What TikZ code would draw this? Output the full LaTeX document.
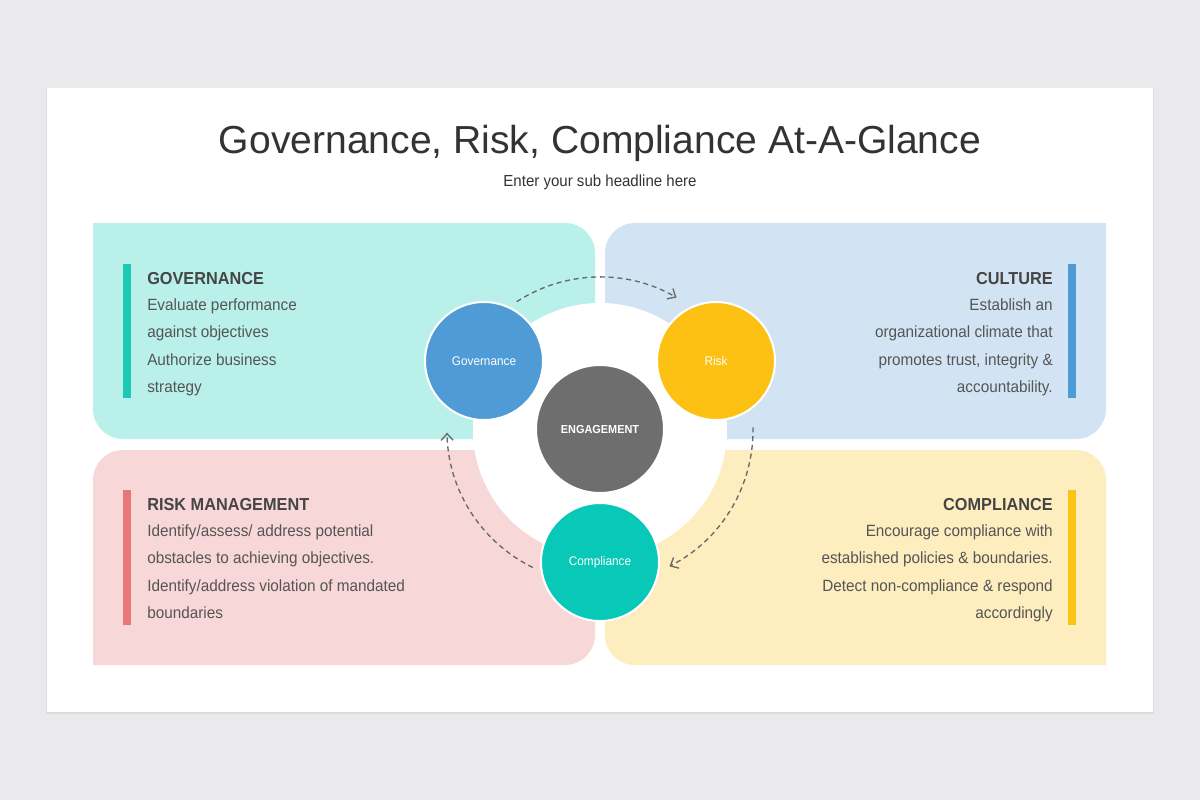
\documentclass[tikz,border=0pt]{standalone}
\usepackage{fontspec}
\setmainfont{Liberation Sans}[FakeStretch=0.94]
\newfontfamily\titlefont{Liberation Sans}
\usetikzlibrary{arrows.meta}
\definecolor{bgc}{HTML}{EAE9EB}
\definecolor{shadowc}{HTML}{DCDBDD}
\definecolor{tlc}{HTML}{B9F0EA}
\definecolor{trc}{HTML}{D2E4F3}
\definecolor{blc}{HTML}{F8D7D8}
\definecolor{brc}{HTML}{FDEDBF}
\definecolor{govc}{HTML}{4F9BD5}
\definecolor{riskc}{HTML}{FDC113}
\definecolor{engc}{HTML}{6E6E6E}
\definecolor{compc}{HTML}{08C9B8}
\definecolor{barteal}{HTML}{1CC9B4}
\definecolor{barblue}{HTML}{4E9BD6}
\definecolor{barred}{HTML}{E8777A}
\definecolor{baryellow}{HTML}{FDC218}
\definecolor{titlec}{HTML}{333333}
\definecolor{headc}{HTML}{454545}
\definecolor{bodyc}{HTML}{555555}
\definecolor{arrc}{HTML}{686868}
\tikzset{
  circ/.style={circle, draw=white, line width=1.5pt, text=white, inner sep=0pt, font=\fontsize{9.4pt}{11pt}\selectfont},
  headtxt/.style={inner sep=0pt, text=headc, font=\fontsize{13pt}{15pt}\selectfont\bfseries},
  bodytxt/.style={inner sep=0pt, text=bodyc, font=\fontsize{12.2pt}{14pt}\selectfont},
  cyclearrow/.style={draw=arrc, line width=1pt, dash pattern=on 3.8pt off 2.8pt, -{Straight Barb[length=5pt,width=9pt]}}
}
\begin{document}
\begin{tikzpicture}[x=0.75pt,y=-0.75pt]
\useasboundingbox (0,0) rectangle (1200,800);
\fill[bgc] (0,0) rectangle (1200,800);
\fill[shadowc] (46,88) rectangle (1154,714);
\fill[white] (47,88) rectangle (1153,712);
% title
\node[inner sep=0pt, anchor=base, text=titlec, font=\titlefont\fontsize{29.3pt}{34pt}\selectfont] (title) at (600,153) {Governance, Risk, Compliance At-A-Glance};
\node[inner sep=0pt, anchor=base, text=titlec, font=\fontsize{12pt}{14pt}\selectfont] (sub) at (600,186) {Enter your sub headline here};
% quadrants
\fill[tlc] (93,223) -- (565,223) arc[start angle=-90,end angle=0,radius=30] -- (595,439) -- (123,439) arc[start angle=90,end angle=180,radius=30] -- cycle;
\fill[trc] (605,439) -- (605,253) arc[start angle=180,end angle=270,radius=30] -- (1106,223) -- (1106,409) arc[start angle=0,end angle=90,radius=30] -- cycle;
\fill[blc] (93,665) -- (93,480) arc[start angle=180,end angle=270,radius=30] -- (595,450) -- (595,635) arc[start angle=0,end angle=90,radius=30] -- cycle;
\fill[brc] (605,450) -- (1076,450) arc[start angle=-90,end angle=0,radius=30] -- (1106,665) -- (635,665) arc[start angle=90,end angle=180,radius=30] -- cycle;
% bars
\fill[barteal] (123,264) rectangle (131,398);
\fill[barblue] (1068,264) rectangle (1076,398);
\fill[barred] (123,490) rectangle (131,625);
\fill[baryellow] (1068,490) rectangle (1076,625);
% white disc
\fill[white] (600,430) circle[radius=127];
% texts TL
\node[headtxt, anchor=base west] (govh) at (147,284) {GOVERNANCE};
\node[bodytxt, anchor=base west] (gov1) at (147,310) {Evaluate performance};
\node[bodytxt, anchor=base west] (gov2) at (147,337.6) {against objectives};
\node[bodytxt, anchor=base west] (gov3) at (147,365.2) {Authorize business};
\node[bodytxt, anchor=base west] (gov4) at (147,392.8) {strategy};
% texts TR
\node[headtxt, anchor=base east] (culh) at (1053,284) {CULTURE};
\node[bodytxt, anchor=base east] (cul1) at (1053,310) {Establish an};
\node[bodytxt, anchor=base east] (cul2) at (1053,337.6) {organizational climate that};
\node[bodytxt, anchor=base east] (cul3) at (1053,365.2) {promotes trust, integrity \&};
\node[bodytxt, anchor=base east] (cul4) at (1053,392.8) {accountability.};
% texts BL
\node[headtxt, anchor=base west] (rmh) at (147,510) {RISK MANAGEMENT};
\node[bodytxt, anchor=base west] (rm1) at (147,536) {Identify/assess/ address potential};
\node[bodytxt, anchor=base west] (rm2) at (147,563.6) {obstacles to achieving objectives.};
\node[bodytxt, anchor=base west] (rm3) at (147,591.2) {Identify/address violation of mandated};
\node[bodytxt, anchor=base west] (rm4) at (147,618.8) {boundaries};
% texts BR
\node[headtxt, anchor=base east] (comh) at (1053,510) {COMPLIANCE};
\node[bodytxt, anchor=base east] (com1) at (1053,536) {Encourage compliance with};
\node[bodytxt, anchor=base east] (com2) at (1053,563.6) {established policies \& boundaries.};
\node[bodytxt, anchor=base east] (com3) at (1053,591.2) {Detect non-compliance \& respond};
\node[bodytxt, anchor=base east] (com4) at (1053,618.8) {accordingly};
% circles
\node[circ, fill=govc, minimum size=88.5pt] (gov) at (484,361) {Governance};
\node[circ, fill=riskc, minimum size=88.5pt] (risk) at (716,361) {Risk};
\node[circ, fill=compc, minimum size=88.5pt] (comp) at (600,562) {Compliance};
\node[circ, fill=engc, minimum size=96pt, font=\fontsize{8.7pt}{10pt}\selectfont\bfseries] (eng) at (600,429) {ENGAGEMENT};
% cycle arrows
\coordinate (a1s) at (516.7,301.7);
\coordinate (a2s) at (753.0,427.3);
\coordinate (a3s) at (532.9,567.5);
\draw[cyclearrow] (a1s) arc[start angle=-123,end angle=-60,radius=153];
\draw[cyclearrow] (a2s) arc[start angle=-1,end angle=63,radius=153];
\draw[cyclearrow] (a3s) arc[start angle=116,end angle=179,radius=153];
\end{tikzpicture}
\end{document}
